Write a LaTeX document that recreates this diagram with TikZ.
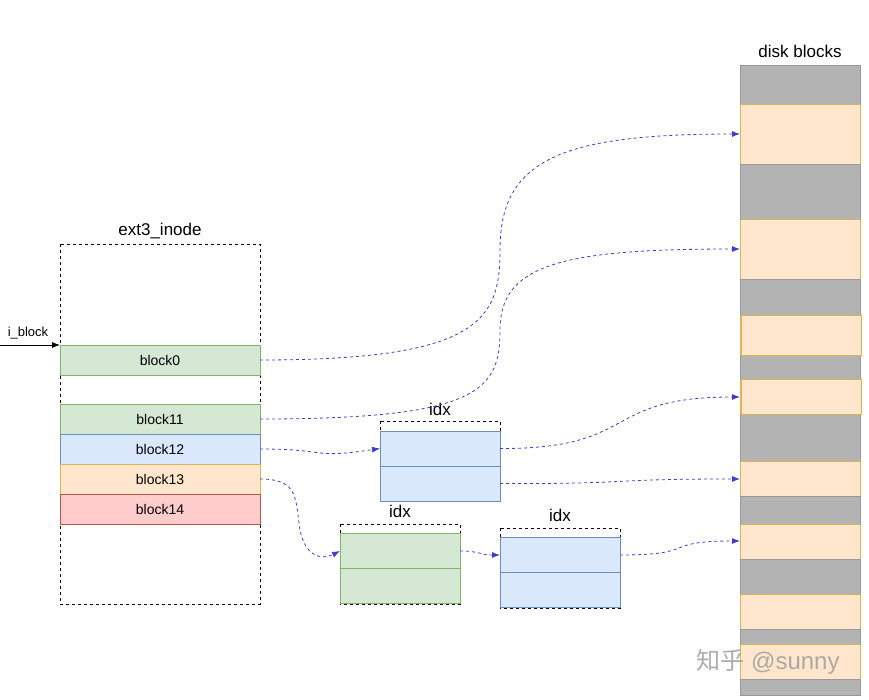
\documentclass[tikz,border=0pt]{standalone}
\usepackage{fontspec}
\setmainfont{Liberation Sans}
\newfontfamily\cjk{Noto Sans CJK SC}
\usetikzlibrary{arrows.meta}
\definecolor{gF}{HTML}{D5E8D4}\definecolor{gS}{HTML}{82B366}
\definecolor{bF}{HTML}{DAE8FC}\definecolor{bS}{HTML}{6C8EBF}
\definecolor{oF}{HTML}{FFE6CC}\definecolor{oS}{HTML}{D6B656}
\definecolor{rF}{HTML}{FFCCCC}\definecolor{rS}{HTML}{B85450}
\definecolor{dF}{HTML}{B3B3B3}\definecolor{dS}{HTML}{999999}
\definecolor{ar}{HTML}{3D3DCC}
\begin{document}
\begin{tikzpicture}[x=1pt,y=-1pt,
 cell/.style={draw, line width=0.8pt, inner sep=0pt, outer sep=0pt, font=\fontsize{14}{16}\selectfont},
 grn/.style={cell, fill=gF, draw=gS}, blu/.style={cell, fill=bF, draw=bS},
 org/.style={cell, fill=oF, draw=oS}, red/.style={cell, fill=rF, draw=rS},
 gry/.style={cell, fill=dF, draw=dS},
 box/.style={draw, dashed, line width=0.8pt},
 lab/.style={font=\fontsize{17}{19}\selectfont},
 lnk/.style={draw=ar, dashed, line width=0.8pt, -{Latex[length=8pt,width=6pt]}}]
\useasboundingbox (0,0) rectangle (869,700);
% disk
\foreach \a/\b/\s [count=\i] in {65/104/gry,104/164/org,164/219/gry,219/279/org,279/315/gry,315/355/org,355/379/gry,379/414/org,414/461/gry,461/496/org,496/524/gry,524/559/org,559/594/gry,594/629/org,629/644/gry,644/679/org,679/695/gry}
  \path[\s] (740,\a) rectangle (860,\b);
\node[org, minimum width=120pt, minimum height=40pt] (d3) at (801,335) {};
\node[org, minimum width=120pt, minimum height=35pt] (d4) at (801,396.5) {};
\coordinate (d1) at (740,134); \coordinate (d2) at (740,249);
\coordinate (d4w) at (740,397); \coordinate (d5) at (740,479); \coordinate (d6) at (740,541);
\node[lab] (dl) at (800,51) {disk blocks};
% inode
\draw[box] (60,244) rectangle (260,604);
\node[lab] (il) at (160,231) {ext3\_inode};
\node[grn, minimum width=200pt, minimum height=30pt] (b0) at (160,360) {block0};
\node[grn, minimum width=200pt, minimum height=30pt] (b11) at (160,419) {block11};
\node[blu, minimum width=200pt, minimum height=30pt] (b12) at (160,449) {block12};
\node[org, minimum width=200pt, minimum height=30pt] (b13) at (160,479) {block13};
\node[red, minimum width=200pt, minimum height=30pt] (b14) at (160,509) {block14};
\coordinate (ib) at (0,345);
\node[font=\fontsize{13}{15}\selectfont, anchor=south] (ibl) at (28,343) {i\_block};
\draw[-{Latex[length=8pt,width=6pt]}, line width=0.8pt] (ib) -- (b0.north west);
% idx1
\draw[box] (380,421) rectangle (500,501);
\node[lab] (x1l) at (440,409) {idx};
\node[blu, minimum width=120pt, minimum height=35pt] (x1a) at (440,448.5) {};
\node[blu, minimum width=120pt, minimum height=35pt] (x1b) at (440,483.5) {};
% idx2
\draw[box] (340,524) rectangle (460,604);
\node[lab] (x2l) at (400,511) {idx};
\node[grn, minimum width=120pt, minimum height=35pt] (x2a) at (400,551) {};
\node[grn, minimum width=120pt, minimum height=35pt] (x2b) at (400,586) {};
% idx3
\draw[box] (500,528) rectangle (620,608);
\node[lab] (x3l) at (560,515) {idx};
\node[blu, minimum width=120pt, minimum height=35pt] (x3a) at (560,555) {};
\node[blu, minimum width=120pt, minimum height=35pt] (x3b) at (560,590) {};
% links
\draw[lnk] (b0.east) .. controls (480,360) and (500,320) .. (500,250) .. controls (500,160) and (560,134) .. (d1);
\draw[lnk] (b11.east) .. controls (480,419) and (500,390) .. (500,330) .. controls (500,265) and (560,249) .. (d2);
\draw[lnk] (b12.east) .. controls (330,449) and (310,459) .. (x1a.west);
\draw[lnk] (b13.east) .. controls (300,479) and (295,500) .. (300,530) .. controls (305,555) and (320,561) .. (x2a.west);
\draw[lnk] (x1a.east) .. controls (640,449) and (600,397) .. (d4w);
\draw[lnk] (x1b.east) .. controls (640,484) and (600,479) .. (d5);
\draw[lnk] (x2a.east) .. controls (480,551) and (480,555) .. (x3a.west);
\draw[lnk] (x3a.east) .. controls (700,555) and (660,541) .. (d6);
\node[text=black!40, opacity=0.8, font=\fontsize{24}{26}\selectfont] (wm) at (768,662) {{\cjk 知乎} @sunny};
\end{tikzpicture}
\end{document}
